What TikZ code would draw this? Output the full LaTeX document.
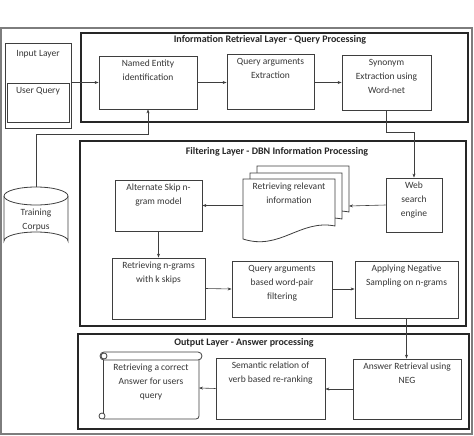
\documentclass[tikz,border=0pt]{standalone}
\usepackage{fontspec}
\setmainfont{Carlito}
\usetikzlibrary{arrows.meta,calc}
\definecolor{ink}{RGB}{55,55,55}
\definecolor{edge}{RGB}{62,62,62}
\definecolor{outer}{RGB}{125,125,125}

\begin{document}
\begin{tikzpicture}[x=1pt, y=-1pt, font=\fontsize{9.5}{14}\selectfont, text=ink,
  box/.style={draw=edge, line width=0.8pt, fill=white, inner sep=0pt},
  txt/.style={anchor=north, yshift=-4.5pt, align=center, inner sep=0pt, text=ink},
  layer/.style={draw=black!85, line width=1.2pt, inner sep=0pt},
  ttl/.style={font=\fontsize{10}{12}\selectfont\bfseries, text=black!85, inner sep=0pt},
  arr/.style={draw=edge, line width=0.6pt, -{Stealth[length=4pt, width=3pt]}}]
\useasboundingbox (0,0) rectangle (474,436);
% frames
\node[draw=outer, line width=2pt, minimum width=471pt, minimum height=406pt] (frame) at (236.5,231) {};
\node[layer, minimum width=387pt, minimum height=89pt] (irl) at (274.5,77.5) {};
\node[layer, minimum width=386pt, minimum height=185pt] (fil) at (273,233.5) {};
\node[layer, minimum width=391pt, minimum height=95pt] (outl) at (273.5,381.5) {};
\node[ttl] (irtitle) at (270,39.5) {Information Retrieval Layer - Query Processing};
\node[ttl] (fltitle) at (277,152) {Filtering Layer - DBN Information Processing};
\node[ttl] (outtitle) at (244,343) {Output Layer - Answer processing};
% input layer
\node[box, minimum width=66pt, minimum height=85pt, label={[txt, yshift=-3pt]north:Input Layer}] (inlayer) at (38,85.5) {};
\node[box, minimum width=62pt, minimum height=39pt, label={[txt]north:User Query}] (uq) at (38,102.5) {};
% query processing
\node[box, minimum width=98pt, minimum height=53pt, label={[txt]north:Named Entity\\identification}] (ne) at (148,82.5) {};
\node[box, minimum width=87pt, minimum height=55pt, label={[txt]north:Query arguments\\Extraction}] (qae) at (270.5,81.5) {};
\node[box, minimum width=89pt, minimum height=55pt, label={[txt]north:Synonym\\Extraction using\\Word-net}] (syn) at (386.5,82.5) {};
% training corpus
\fill[white] (4,196) -- (4,241) arc[start angle=180, end angle=360, x radius=32, y radius=9] -- (68,196) -- cycle;
\draw[edge, line width=0.8pt] (4,196) -- (4,241) arc[start angle=180, end angle=360, x radius=32, y radius=9] -- (68,196);
\draw[edge, line width=0.8pt, fill=white] (36,196) ellipse[x radius=32, y radius=9];
\coordinate (ctop) at (36,187);
\node[align=center, inner sep=0pt] (corpus) at (36,220) {Training\\Corpus};
% filtering layer
\node[box, minimum width=56pt, minimum height=54pt, label={[txt]north:Web\\search\\engine}] (web) at (414,205) {};
\draw[box] (257,225) -- (257,166) -- (349,166) -- (349,212) .. controls (314,205) and (294,237) .. (257,225) -- cycle;
\draw[box] (250,232) -- (250,173) -- (342,173) -- (342,219) .. controls (307,212) and (287,244) .. (250,232) -- cycle;
\draw[box] (243,239) -- (243,179) -- (335,179) -- (335,226) .. controls (300,219) and (280,251) .. (243,239) -- cycle;
\node[align=center, inner sep=0pt, anchor=north] (rri) at (289,183) {Retrieving relevant\\information};
\coordinate (rrib) at (349,206);
\coordinate (rrif) at (243,205.5);
\node[box, minimum width=87pt, minimum height=51pt, label={[txt]north:Alternate Skip n-\\gram model}] (ask) at (158.5,205.5) {};
\node[box, minimum width=93pt, minimum height=61pt, label={[txt]north:Retrieving n-grams\\with k skips}] (rng) at (158.5,288.5) {};
\node[box, minimum width=100pt, minimum height=56pt, label={[txt]north:Query arguments\\based word-pair\\filtering}] (qaw) at (282,289) {};
\node[box, minimum width=103pt, minimum height=57pt, label={[txt]north:Applying Negative\\Sampling on n-grams}] (neg) at (406.5,289.5) {};
% output layer
\node[box, minimum width=108pt, minimum height=60pt, label={[txt]north:Answer Retrieval using\\NEG}] (ar) at (407,389) {};
\node[box, minimum width=109pt, minimum height=61pt, label={[txt]north:Semantic relation of\\verb based re-ranking}] (sem) at (270.5,388.5) {};
% scroll
\fill[white] (103,356) rectangle (199,419);
\draw[edge, line width=0.8pt] (103,360) -- (103,416);
\draw[edge, line width=0.8pt] (199,360) -- (199,416) to[out=-90, in=0] (196,419) -- (103,419);
\draw[edge, line width=0.8pt, fill=white, rounded corners=4pt] (100,352) rectangle (202,360);
\draw[edge, line width=0.8pt] (104,356) circle[radius=3];
\draw[edge, line width=0.8pt, fill=white] (102,416) circle[radius=3];
\node[align=center, inner sep=0pt, anchor=north] (rc) at (151,364) {Retrieving a correct\\Answer for users\\query};
\coordinate (rce) at (199,388);
% connectors
\draw[arr] (inlayer.east |- ne.west) -- (ne.west);
\draw[arr] (ne.east) -- (qae.west |- ne.east);
\draw[arr] (qae.east |- ne.east) -- (syn.west);
\draw[arr] (ctop) |- ([yshift=-25pt]ne.south) -- (ne.south);
\draw[arr] (syn.south) -- ++(0,22) -| (web.north);
\draw[arr] (web.west) -- (rrib);
\draw[arr] (rrif) -- (ask.east);
\draw[arr] (ask.south) -- (rng.north);
\draw[arr] (rng.east) -- (qaw.west);
\draw[arr] (qaw.east) -- (neg.west |- qaw.east);
\draw[arr] (neg.south) -- (neg.south |- ar.north);
\draw[arr] (ar.west) -- (sem.east |- ar.west);
\draw[arr] (sem.west) -- (rce);
\end{tikzpicture}
\end{document}
